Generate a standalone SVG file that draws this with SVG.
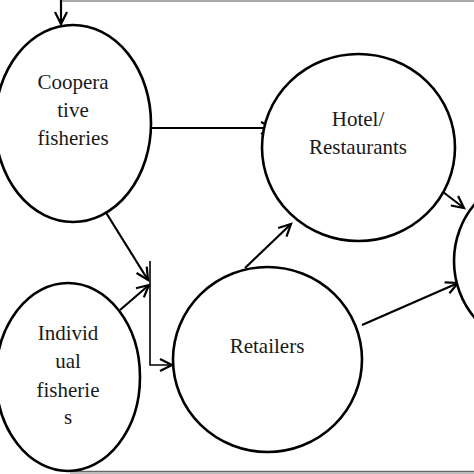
<svg xmlns="http://www.w3.org/2000/svg" width="474" height="474" viewBox="0 0 474 474">
<style>
.node{fill:#fff;stroke:#000;stroke-width:2.6}
.lbl{font-family:"Liberation Serif","Times New Roman",serif;font-size:21px;fill:#1a1a1a;text-anchor:middle}
.c{fill:none;stroke:#000;stroke-width:2.2}
.thin{fill:none;stroke:#000;stroke-width:1.6}
</style>
<defs>
<marker id="ah" markerUnits="userSpaceOnUse" markerWidth="16" markerHeight="16" refX="13" refY="7" orient="auto" viewBox="0 0 16 14">
<path d="M1,1 L13,7 L1,13" fill="none" stroke="#000" stroke-width="2.2"/>
</marker>
</defs>
<rect x="0" y="0" width="474" height="474" fill="#fff"/>
<line x1="62" y1="1" x2="474" y2="1" stroke="#aaa" stroke-width="2"/>
<rect x="70" y="472" width="404" height="2" fill="#bbb"/>
<line x1="70" y1="471.3" x2="474" y2="471.3" stroke="#444" stroke-width="1"/>
<g id="connectors">
<line class="c" x1="61" y1="0" x2="61" y2="24" marker-end="url(#ah)"/>
<line class="c" x1="140" y1="128" x2="273" y2="128" marker-end="url(#ah)"/>
<line class="c" x1="105" y1="211" x2="148" y2="280" marker-end="url(#ah)"/>
<line class="c" x1="120" y1="310" x2="149" y2="285" marker-end="url(#ah)"/>
<polyline class="thin" points="150,261 150,365 172,365" marker-end="url(#ah)"/>
<line class="c" x1="245" y1="268" x2="291" y2="224" marker-end="url(#ah)"/>
<line class="c" x1="443" y1="192" x2="464" y2="208" marker-end="url(#ah)"/>
<line class="c" x1="362" y1="325" x2="458" y2="283" marker-end="url(#ah)"/>
</g>
<g id="cooperative">
<ellipse class="node" cx="73" cy="123.5" rx="78" ry="98.5"/>
<text class="lbl" x="73" y="89">Coopera</text>
<text class="lbl" x="73" y="117">tive</text>
<text class="lbl" x="73" y="145">fisheries</text>
</g>
<g id="individual">
<ellipse class="node" cx="68" cy="377" rx="72" ry="94"/>
<text class="lbl" x="68" y="340">Individ</text>
<text class="lbl" x="68" y="368">ual</text>
<text class="lbl" x="68" y="397">fisherie</text>
<text class="lbl" x="68" y="424">s</text>
</g>
<g id="hotel">
<ellipse class="node" cx="358.5" cy="147.5" rx="96.5" ry="93.5"/>
<text class="lbl" x="358" y="126">Hotel/</text>
<text class="lbl" x="358" y="154">Restaurants</text>
</g>
<g id="retailers">
<ellipse class="node" cx="267.5" cy="359.5" rx="94.5" ry="92.5"/>
<text class="lbl" x="267" y="353">Retailers</text>
</g>
<g id="consumers">
<ellipse class="node" cx="535" cy="261" rx="81" ry="85"/>
</g>
</svg>
